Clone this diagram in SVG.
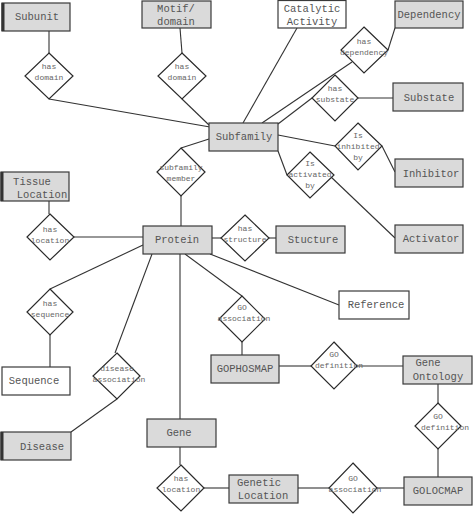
<svg xmlns="http://www.w3.org/2000/svg" width="474" height="515" viewBox="0 0 474 515">
<style>
.e{fill:#dadada;stroke:#3a3a3a;stroke-width:1.2}
.w{fill:#ffffff;stroke:#3a3a3a;stroke-width:1.2}
.d{fill:#ffffff;stroke:#2a2a2a;stroke-width:1.2}
.sh{stroke:#333;stroke-width:3}
.t{font-family:"Liberation Mono","DejaVu Sans Mono",monospace;font-size:10.5px;fill:#555;text-anchor:middle;dominant-baseline:central}
.s{font-family:"Liberation Mono","DejaVu Sans Mono",monospace;font-size:8px;fill:#666;text-anchor:middle;dominant-baseline:central}
#connectors line{stroke:#333;stroke-width:1.1}
</style>
<rect width="474" height="515" fill="#ffffff"/>
<g id="connectors">
<line x1="49" y1="31" x2="49" y2="53"/>
<line x1="49" y1="99" x2="210" y2="127"/>
<line x1="180" y1="28" x2="182" y2="53"/>
<line x1="182" y1="99" x2="209" y2="125"/>
<line x1="297" y1="28" x2="243" y2="123"/>
<line x1="395" y1="28" x2="388" y2="50"/>
<line x1="262" y1="123" x2="352" y2="62"/>
<line x1="358" y1="98" x2="393" y2="98"/>
<line x1="312" y1="98" x2="278" y2="124"/>
<line x1="278" y1="135" x2="335" y2="146"/>
<line x1="382" y1="146" x2="395" y2="172"/>
<line x1="278" y1="151" x2="287" y2="175"/>
<line x1="330" y1="176" x2="395" y2="238"/>
<line x1="181" y1="148" x2="209" y2="139"/>
<line x1="181" y1="196" x2="181" y2="226"/>
<line x1="49" y1="201" x2="49" y2="214"/>
<line x1="74" y1="237" x2="143" y2="237"/>
<line x1="212" y1="238" x2="221" y2="238"/>
<line x1="269" y1="238" x2="276" y2="238"/>
<line x1="143" y1="245" x2="50" y2="289"/>
<line x1="50" y1="335" x2="50" y2="367"/>
<line x1="152" y1="254" x2="115" y2="353"/>
<line x1="117" y1="399" x2="71" y2="432"/>
<line x1="180" y1="254" x2="180" y2="419"/>
<line x1="185" y1="254" x2="242" y2="296"/>
<line x1="242" y1="342" x2="242" y2="355"/>
<line x1="210" y1="254" x2="339" y2="305"/>
<line x1="279" y1="366" x2="311" y2="366"/>
<line x1="357" y1="366" x2="403" y2="366"/>
<line x1="438" y1="384" x2="438" y2="403"/>
<line x1="438" y1="449" x2="438" y2="477"/>
<line x1="180" y1="447" x2="180" y2="465"/>
<line x1="204" y1="488" x2="229" y2="488"/>
<line x1="298" y1="488" x2="329" y2="488"/>
<line x1="377" y1="488" x2="404" y2="488"/>
</g>
<g id="subunit"><rect class="e" x="2" y="3" width="68" height="28"/><line class="sh" x1="3" y1="3" x2="3" y2="31"/><text class="t" x="37" y="17">Subunit</text></g>
<g id="motif"><rect class="e" x="142" y="1" width="69" height="27"/><text class="t" x="176" y="9">Motif/</text><text class="t" x="176" y="22">domain</text></g>
<g id="catalytic"><rect class="w" x="278" y="0.5" width="68" height="27.5"/><text class="t" x="312" y="8.5">Catalytic</text><text class="t" x="312" y="21.5">Activity</text></g>
<g id="dependency"><rect class="e" x="395" y="1" width="68" height="27"/><text class="t" x="429" y="14.5">Dependency</text></g>
<g id="substate"><rect class="e" x="393" y="83" width="70" height="28"/><text class="t" x="429" y="98">Substate</text></g>
<g id="subfamily"><rect class="e" x="209" y="123" width="69" height="28"/><text class="t" x="244" y="137">Subfamily</text></g>
<g id="inhibitor"><rect class="e" x="395" y="159" width="68" height="28"/><text class="t" x="431" y="174">Inhibitor</text></g>
<g id="activator"><rect class="e" x="395" y="225" width="68" height="28"/><text class="t" x="431" y="239">Activator</text></g>
<g id="tissue"><rect class="e" x="1" y="172" width="68" height="29"/><line class="sh" x1="2" y1="172" x2="2" y2="201"/><text class="t" x="32" y="182">Tissue</text><text class="t" x="42" y="195">Location</text></g>
<g id="protein"><rect class="e" x="143" y="226" width="69" height="28"/><text class="t" x="177" y="240">Protein</text></g>
<g id="stucture"><rect class="e" x="276" y="226" width="69" height="27"/><text class="t" x="313" y="240">Stucture</text></g>
<g id="reference"><rect class="w" x="339" y="291" width="70" height="28"/><text class="t" x="376" y="305">Reference</text></g>
<g id="sequence"><rect class="w" x="2" y="367" width="68" height="28"/><text class="t" x="34" y="381">Sequence</text></g>
<g id="gophosmap"><rect class="e" x="211" y="355" width="68" height="28"/><text class="t" x="245" y="369">GOPHOSMAP</text></g>
<g id="geneontology"><rect class="e" x="403" y="356" width="69" height="28"/><text class="t" x="428" y="363">Gene</text><text class="t" x="438" y="377">Ontology</text></g>
<g id="disease"><rect class="e" x="1" y="432" width="70" height="28"/><line class="sh" x1="2" y1="432" x2="2" y2="460"/><text class="t" x="42" y="447">Disease</text></g>
<g id="gene"><rect class="e" x="147" y="419" width="69" height="28"/><text class="t" x="179" y="433">Gene</text></g>
<g id="geneticlocation"><rect class="e" x="229" y="475" width="69" height="28"/><text class="t" x="259" y="483">Genetic</text><text class="t" x="263" y="496">Location</text></g>
<g id="golocmap"><rect class="e" x="404" y="477" width="68" height="28"/><text class="t" x="438" y="491">GOLOCMAP</text></g>
<g id="d_has_domain_1"><polygon class="d" points="49,53 73,76 49,99 25,76"/><text class="s" x="49" y="66">has</text><text class="s" x="49" y="77">domain</text></g>
<g id="d_has_domain_2"><polygon class="d" points="182,53 206,76 182,99 158,76"/><text class="s" x="182" y="66">has</text><text class="s" x="182" y="77">domain</text></g>
<g id="d_has_dependency"><polygon class="d" points="364,27 388,50 364,73 341,50"/><text class="s" x="364" y="41">has</text><text class="s" x="364" y="52">dependency</text></g>
<g id="d_has_substate"><polygon class="d" points="335,75 358,98 335,121 312,98"/><text class="s" x="335" y="88">has</text><text class="s" x="335" y="99">substate</text></g>
<g id="d_inhibited"><polygon class="d" points="358,123 382,146 358,170 335,146"/><text class="s" x="358" y="135">Is</text><text class="s" x="358" y="146">inhibited</text><text class="s" x="358" y="157">by</text></g>
<g id="d_activated"><polygon class="d" points="310,152 334,175 310,198 287,175"/><text class="s" x="310" y="163">Is</text><text class="s" x="310" y="174">activated</text><text class="s" x="310" y="185">by</text></g>
<g id="d_member"><polygon class="d" points="181,148 205,172 181,196 157,172"/><text class="s" x="181" y="167">subfamily</text><text class="s" x="181" y="178">member</text></g>
<g id="d_has_location_1"><polygon class="d" points="50,214 74,237 50,260 27,237"/><text class="s" x="50" y="229">has</text><text class="s" x="50" y="240">location</text></g>
<g id="d_has_structure"><polygon class="d" points="245,215 269,238 245,261 221,238"/><text class="s" x="245" y="228">has</text><text class="s" x="245" y="239">structure</text></g>
<g id="d_has_sequence"><polygon class="d" points="50,289 73,312 50,335 27,312"/><text class="s" x="50" y="303">has</text><text class="s" x="50" y="314">sequence</text></g>
<g id="d_disease"><polygon class="d" points="117,353 140,376 117,399 93,376"/><text class="s" x="117" y="368">disease</text><text class="s" x="119" y="379">association</text></g>
<g id="d_go_association_1"><polygon class="d" points="242,296 265,319 242,342 219,319"/><text class="s" x="242" y="307">GO</text><text class="s" x="244" y="318">association</text></g>
<g id="d_go_definition_1"><polygon class="d" points="334,342 357,366 334,389 311,366"/><text class="s" x="334" y="354">GO</text><text class="s" x="339" y="365">definition</text></g>
<g id="d_go_definition_2"><polygon class="d" points="438,403 461,426 438,449 415,426"/><text class="s" x="438" y="416">GO</text><text class="s" x="445" y="427">definition</text></g>
<g id="d_has_location_2"><polygon class="d" points="181,465 204,488 181,511 157,488"/><text class="s" x="181" y="478">has</text><text class="s" x="181" y="489">location</text></g>
<g id="d_go_association_2"><polygon class="d" points="353,463 377,488 353,513 329,488"/><text class="s" x="353" y="478">GO</text><text class="s" x="355" y="489">association</text></g>
</svg>
